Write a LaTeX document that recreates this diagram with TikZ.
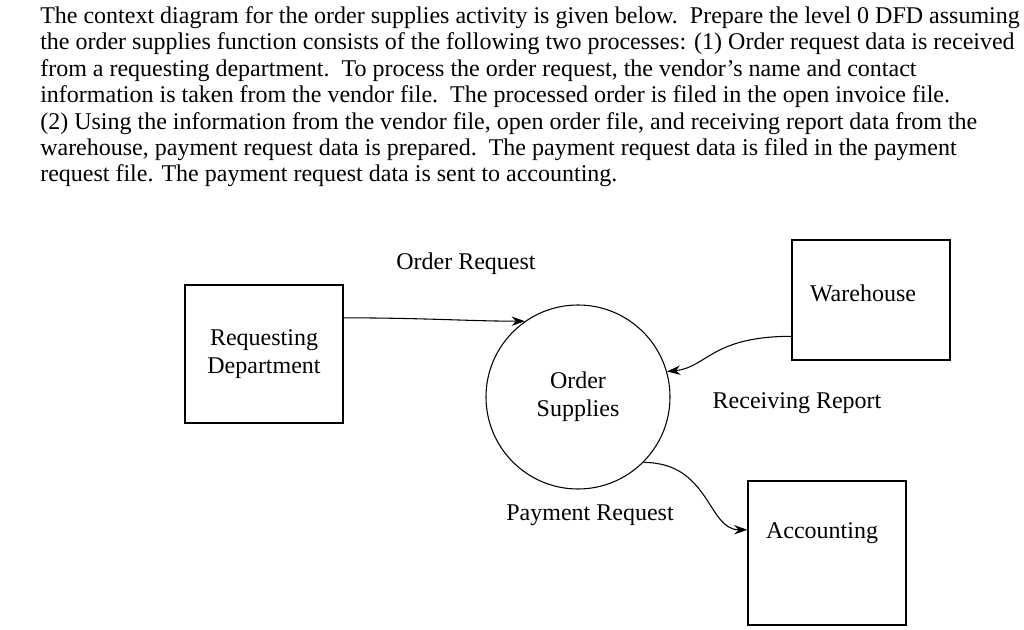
\documentclass[tikz,border=0pt]{standalone}
\usepackage{fontspec}
\setmainfont{Liberation Serif}
\usetikzlibrary{calc,arrows.meta}
\begin{document}
\begin{tikzpicture}[x=0.75pt,y=-0.75pt,
  txt/.style={font=\fontsize{18}{21}\selectfont,inner sep=0pt},
  para/.style={txt,anchor=west},
  ent/.style={draw,line width=0.8pt,minimum width=118.5pt,align=center,font=\fontsize{18}{21}\selectfont},
  flow/.style={line width=0.8pt,-{Stealth[length=10pt,width=7pt]}}]
\useasboundingbox (0,0) rectangle (1024,630);
\clip (0,0) rectangle (1024,630);
\node[para] (l1) at (40,18) {The context diagram for the order supplies activity is given below.\ \ Prepare the level 0 DFD assuming};
\node[para] (l2) at (40,44) {the order supplies function consists of the following two processes: (1) Order request data is received};
\node[para] (l3) at (40,71) {from a requesting department.\ \ To process the order request, the vendor's name and contact};
\node[para] (l4) at (40,97) {information is taken from the vendor file.\ \ The processed order is filed in the open invoice file.};
\node[para] (l5) at (40,124) {(2) Using the information from the vendor file, open order file, and receiving report data from the};
\node[para] (l6) at (40,150) {warehouse, payment request data is prepared.\ \ The payment request data is filed in the payment};
\node[para] (l7) at (40,176) {request file. The payment request data is sent to accounting.};

\node[ent,minimum height=103.5pt] (req) at (264,354) {Requesting\\Department};
\node[ent,minimum height=90pt] (wh) at (871,300) {};
\node[txt] (whl) at (863,293) {Warehouse};
\node[ent,minimum height=108pt] (acc) at (827,553) {};
\node[txt] (accl) at (822,533) {Accounting};
\node[draw,circle,line width=0.8pt,minimum size=138pt,align=center,font=\fontsize{18}{21}\selectfont] (os) at (578,397) {Order\\Supplies};

\node[txt] (t1) at (466,264) {Order Request};
\node[txt] (t2) at (797,403) {Receiving Report};
\node[txt] (t3) at (590,515) {Payment Request};

\coordinate (a1) at ($(req.north east)!0.24!(req.south east)$);
\draw[flow] (a1) .. controls +(60pt,0) and +(-40pt,0) .. (os.125);
\coordinate (a2) at ($(wh.north west)!0.8!(wh.south west)$);
\draw[flow] (a2) .. controls +(-60pt,0) and +(30pt,3pt) .. (os.16);
\coordinate (a3) at ($(acc.north west)!0.34!(acc.south west)$);
\draw[flow] (os.-45) .. controls +(50pt,0) and +(-30pt,0pt) .. (a3);
\end{tikzpicture}
\end{document}
